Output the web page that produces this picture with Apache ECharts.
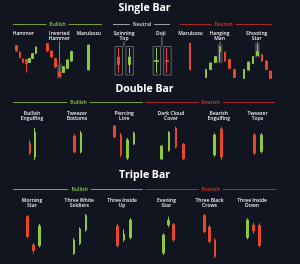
<!DOCTYPE html>
<html>
<head>
<meta charset="utf-8">
<script src="https://cdn.jsdelivr.net/npm/echarts@6/dist/echarts.min.js"></script>
<style>
  html, body { margin: 0; padding: 0; background: #11151f; }
  #chart { width: 300px; height: 264px; }
</style>
</head>
<body>
<div id="chart"></div>
<script>
// every candle is [open, close, low, high]
const hammer = [[34.5, 29, 28.3, 35], [28, 22.5, 21.7, 28.5], [21, 17.5, 16.7, 21.7], [20.5, 16.5, 7.3, 21], [17.5, 21.5, 17, 22], [21.5, 26.5, 21, 27], [26.5, 33, 26, 33.5]];
const invertedHammer = [[36.5, 29, 28, 37], [29, 23, 22, 29.5], [21.5, 13, 12, 22], [8, 3.5, 3, 15], [7.5, 13.5, 7, 14], [11.5, 20, 11, 21], [19, 28.5, 18.3, 29.3]];
const bullMarubozu = [[10, 35, 10, 35]];
const spinningTop = [[23, 15.5, 7, 32], [15.5, 23, 7, 32]];
const doji = [[18.6, 19.4, 7, 32], [19.4, 18.6, 7, 32]];
const bearMarubozu = [[37, 10, 10, 37]];
const hangingMan = [[2.5, 10.5, 2, 11], [10.5, 17, 10, 17.3], [17.5, 23.5, 17, 24], [28.5, 33, 18.3, 34.5], [28, 19, 18.3, 28.3], [20.5, 11.5, 11, 21], [10.5, 2.5, 2, 11]];
const shootingStar = [[1.5, 10.5, 1, 11], [10, 18, 9.3, 18.3], [16.5, 23.5, 16, 24], [24.5, 28.5, 24, 36], [25.5, 19, 18.3, 26], [19, 10.5, 10, 19.3], [9, 1.5, 1, 9.3]];

const bullishEngulfing = [[22, 12, 10, 25], [8, 33, 5, 37.3]];
const tweezerBottoms = [[29, 13, 11.7, 31], [13, 32, 11.7, 34]];
const piercingLine = [[39, 28, 27, 40], [30, 10, 8, 32], [7, 25, 5, 27], [21, 32, 20, 33.3]];
const darkCloudCover = [[6, 19, 5, 20], [14.5, 32.5, 13.3, 34], [37, 18, 16.7, 38.3], [20.5, 6.5, 5, 22]];
const bearishEngulfing = [[10, 30, 8.3, 32], [36, 8, 5, 38.3]];
const tweezerTops = [[30, 12, 10, 32], [13.5, 30, 11.7, 32]];

const morningStar = [[43.5, 23.5, 21.7, 45], [15, 9.5, 6, 17], [14.5, 34, 12.7, 36]];
const threeWhiteSoldiers = [[6.5, 20, 5, 21.7], [16.5, 31, 15, 32.7], [30, 44.5, 28.3, 46]];
const threeInsideUp = [[34, 14.5, 12.7, 36], [20, 26, 18.3, 30.7], [22.5, 40, 20.7, 41.7]];
const eveningStar = [[7, 25, 5, 26.7], [35, 39.5, 32.7, 43.3], [35.5, 20, 18.3, 37.3]];
const threeBlackCrows = [[44.5, 28.5, 26.7, 46], [33, 18.5, 16.7, 35], [20, 3.5, 1.7, 21.7]];
const threeInsideDown = [[22.5, 40, 20.7, 41.7], [35, 29, 26, 37.3], [34.5, 14.5, 12.7, 36.7]];

const rowTitles = ['Single Bar', 'Double Bar', 'Triple Bar'];
const singleNames = ['Hammer', 'Inverted\nHammer', 'Marubozu', 'Spinning\nTop', 'Doji', 'Marubozu', 'Hanging\nMan', 'Shooting\nStar'];
const doubleNames = ['Bullish\nEngulfing', 'Tweezer\nBottoms', 'Piercing\nLine', 'Dark Cloud\nCover', 'Bearish\nEngulfing', 'Tweezer\nTops'];
const tripleNames = ['Morning\nStar', 'Three White\nSoldiers', 'Three Inside\nUp', 'Evening\nStar', 'Three Black\nCrows', 'Three Inside\nDown'];

const GREEN = '#8fc83f';
const RED = '#e9472c';
const BG = '#11151f';

// layout of the three rows
const rows = [
  { titleY: 8.5, lineY: 24.5, nameY: 30.8, top: 40, height: 40, max: 40,
    groups: [
      { text: 'Bullish', color: GREEN, line: '#7c9d35', from: 13, to: 102, at: 57.5 },
      { text: 'Neutral', color: '#d8d8d8', line: '#9a9ea6', from: 113, to: 170, at: 142 },
      { text: 'Bearish', color: '#d8352d', line: '#a8282b', from: 180, to: 272, at: 223.5 }
    ] },
  { titleY: 89.5, lineY: 102.5, nameY: 111.5, top: 125, height: 40, max: 40,
    groups: [
      { text: 'Bullish', color: GREEN, line: '#7c9d35', from: 13, to: 143, at: 78.5 },
      { text: 'Bearish', color: '#d8352d', line: '#a8282b', from: 145, to: 275, at: 210.7 }
    ] },
  { titleY: 175, lineY: 189.5, nameY: 198.5, top: 212, height: 48, max: 48,
    groups: [
      { text: 'Bullish', color: GREEN, line: '#7c9d35', from: 13, to: 143, at: 79.7 },
      { text: 'Bearish', color: '#d8352d', line: '#a8282b', from: 145, to: 276, at: 210.7 }
    ] }
];

// x of first candle, spacing, label centre
const patterns = [
  { row: 0, name: singleNames[0], data: hammer, x: 16.7, step: 3.2, at: 23.3 },
  { row: 0, name: singleNames[1], data: invertedHammer, x: 47.3, step: 4.07, at: 59.3, mark: 'fill', hl: [3] },
  { row: 0, name: singleNames[2], data: bullMarubozu, x: 88.3, step: 4, at: 88.7 },
  { row: 0, name: singleNames[3], data: spinningTop, x: 118.5, step: 10.9, at: 124, mark: 'box', hl: [0, 1] },
  { row: 0, name: singleNames[4], data: doji, x: 156.6, step: 10.6, at: 160.8, mark: 'box', hl: [0, 1], bw: 4 },
  { row: 0, name: singleNames[5], data: bearMarubozu, x: 190, step: 4, at: 190.5 },
  { row: 0, name: singleNames[6], data: hangingMan, x: 206, step: 4.72, at: 219.5, mark: 'fill', hl: [3] },
  { row: 0, name: singleNames[7], data: shootingStar, x: 244, step: 4.45, at: 256.7, mark: 'fill', hl: [3] },
  { row: 1, name: doubleNames[0], data: bullishEngulfing, x: 30, step: 5, at: 32 },
  { row: 1, name: doubleNames[1], data: tweezerBottoms, x: 74.3, step: 6.7, at: 77 },
  { row: 1, name: doubleNames[2], data: piercingLine, x: 114.3, step: 6.57, at: 124.2 },
  { row: 1, name: doubleNames[3], data: darkCloudCover, x: 161.7, step: 7.2, at: 171 },
  { row: 1, name: doubleNames[4], data: bearishEngulfing, x: 214.3, step: 7.4, at: 218.7 },
  { row: 1, name: doubleNames[5], data: tweezerTops, x: 254.3, step: 7.4, at: 257.5 },
  { row: 2, name: tripleNames[0], data: morningStar, x: 27.3, step: 6, at: 32 },
  { row: 2, name: tripleNames[1], data: threeWhiteSoldiers, x: 74, step: 6, at: 79.3 },
  { row: 2, name: tripleNames[2], data: threeInsideUp, x: 117.7, step: 6.5, at: 122 },
  { row: 2, name: tripleNames[3], data: eveningStar, x: 163.3, step: 5, at: 166.5 },
  { row: 2, name: tripleNames[4], data: threeBlackCrows, x: 204.3, step: 5.35, at: 209.5 },
  { row: 2, name: tripleNames[5], data: threeInsideDown, x: 247.7, step: 5.8, at: 252 }
];

const chart = echarts.init(document.getElementById('chart'));

const grid = [], xAxis = [], yAxis = [], series = [];
patterns.forEach(function (p, i) {
  const r = rows[p.row];
  grid.push({ left: p.x - p.step / 2, top: r.top, width: p.data.length * p.step, height: r.height });
  xAxis.push({ type: 'category', gridIndex: i, data: p.data.map(function (d, j) { return j; }), show: false });
  yAxis.push({ type: 'value', gridIndex: i, min: 0, max: r.max, show: false });
  series.push({
    type: 'candlestick',
    xAxisIndex: i,
    yAxisIndex: i,
    data: p.data,
    barWidth: p.bw || Math.min(2, p.step * 0.6),
    silent: true,
    itemStyle: { color: GREEN, color0: RED, borderColor: GREEN, borderColor0: RED, borderWidth: 1 }
  });
});

chart.setOption({
  backgroundColor: BG,
  animation: false,
  grid: grid,
  xAxis: xAxis,
  yAxis: yAxis,
  series: series
});

// texts, dividers and highlight boxes
const graphics = [];
function text(str, x, y, fill, font, valign, lineHeight, bg) {
  graphics.push({
    type: 'text', z: 10,
    style: {
      text: str, x: x, y: y, fill: fill, font: font,
      textAlign: 'center', align: 'center',
      textVerticalAlign: valign, verticalAlign: valign,
      lineHeight: lineHeight, backgroundColor: bg, padding: bg ? [0, 3] : 0
    }
  });
}
function line(x1, y1, x2, y2, color) {
  graphics.push({ type: 'line', z: 5, shape: { x1: x1, y1: y1, x2: x2, y2: y2 }, style: { stroke: color, lineWidth: 1 } });
}

rows.forEach(function (r, k) {
  text(rowTitles[k], 144.5, r.titleY, '#ffffff', 'bold 10.5px "Open Sans"', 'middle', 12);
  r.groups.forEach(function (g) {
    line(g.from, r.lineY, g.to, r.lineY, g.line);
    text(g.text, g.at, r.lineY, g.color, '600 5px "Open Sans"', 'middle', 6, BG);
  });
});

patterns.forEach(function (p, i) {
  const r = rows[p.row];
  text(p.name, p.at, r.nameY, '#ececec', '600 5px "Open Sans"', 'top', 5);
  if (!p.mark) return;
  const nameLines = p.name.split('\n').length;
  const labelBottom = r.nameY + nameLines * 5 + 0.5;
  let boxTop = Infinity, cx = 0;
  p.hl.forEach(function (j) {
    const d = p.data[j];
    const hi = chart.convertToPixel({ gridIndex: i }, [j, d[3]]);
    const lo = chart.convertToPixel({ gridIndex: i }, [j, d[2]]);
    cx += hi[0] / p.hl.length;
    const top = hi[1] - 1.5;
    boxTop = Math.min(boxTop, top);
    if (p.mark === 'box') {
      graphics.push({ type: 'rect', z: 1, shape: { x: hi[0] - 3.5, y: top, width: 7.5, height: lo[1] - hi[1] + 3.5 },
        style: { fill: 'none', stroke: '#5d626b', lineWidth: 1 } });
    } else {
      graphics.push({ type: 'rect', z: 1, shape: { x: hi[0] - 2.5, y: top, width: 5, height: lo[1] - hi[1] + 3 },
        style: { fill: 'rgba(150,150,150,0.35)' } });
    }
  });
  line(cx, labelBottom, cx, boxTop, '#7d828a');
});

chart.setOption({ graphic: { elements: graphics } });
</script>
</body>
</html>
